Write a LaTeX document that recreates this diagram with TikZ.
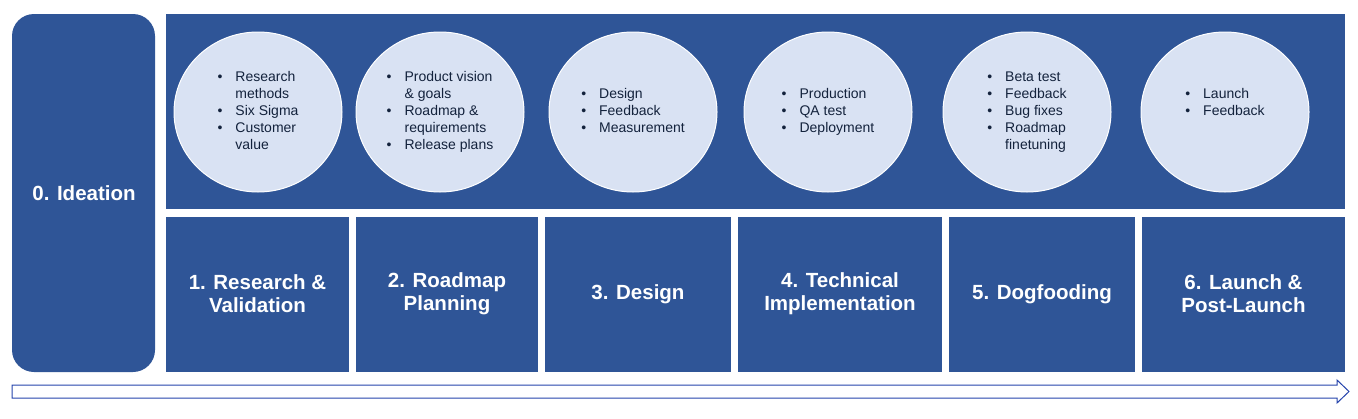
\documentclass[tikz,border=0pt]{standalone}
\usepackage{fontspec}
\setmainfont{Liberation Sans}
\usetikzlibrary{shapes.geometric}
\definecolor{phaseblue}{HTML}{2F5597}
\definecolor{bubblefill}{HTML}{D9E2F3}
\newcommand{\bl}{\textbullet}
\newcommand{\blist}[1]{{\fontsize{14}{17}\selectfont\begin{tabular}{@{}l@{\hspace{13pt}}l@{}}#1\end{tabular}}}
\begin{document}
\begin{tikzpicture}[x=1pt,y=-1pt,
    phase/.style={fill=phaseblue,text=white,font=\bfseries\fontsize{20.5}{23}\selectfont,align=center},
    bubble/.style={ellipse,fill=bubblefill,draw=white,line width=1pt,minimum width=168pt,minimum height=160pt,inner sep=0pt,text=phaseblue!40!black}]
    \useasboundingbox (0,0) rectangle (1358,418);
    % left column
    \draw[phase,rounded corners=22pt,draw=none] (12,14) rectangle (155,372);
    \node[text=white,font=\bfseries\fontsize{20.5}{23}\selectfont] (ideation) at (84,193) {0. Ideation};
    % top band
    \fill[phaseblue] (166,14) rectangle (1345,209);
    \node[bubble] (b1) at (258,112) {\blist{\bl & Research\\ & methods\\ \bl & Six Sigma\\ \bl & Customer\\ & value}};
    \node[bubble] (b2) at (440,112) {\blist{\bl & Product vision\\ & \& goals\\ \bl & Roadmap \&\\ & requirements\\ \bl & Release plans}};
    \node[bubble] (b3) at (633,112) {\blist{\bl & Design\\ \bl & Feedback\\ \bl & Measurement}};
    \node[bubble] (b4) at (828,112) {\blist{\bl & Production\\ \bl & QA test\\ \bl & Deployment}};
    \node[bubble] (b5) at (1027,112) {\blist{\bl & Beta test\\ \bl & Feedback\\ \bl & Bug fixes\\ \bl & Roadmap\\ & finetuning}};
    \node[bubble] (b6) at (1225,112) {\blist{\bl & Launch\\ \bl & Feedback\\[17pt]}};
    % bottom boxes
    \foreach \xa/\xb/\txt/\nm in {166/349/{1. Research \&\\Validation}/p1, 356/538/{2. Roadmap\\Planning}/p2,
        545/731/{3. Design}/p3, 738/942/{4. Technical\\Implementation}/p4,
        949/1135/{5. Dogfooding}/p5, 1142/1345/{6. Launch \&\\Post-Launch}/p6}{
        \fill[phaseblue] (\xa,217) rectangle (\xb,372);
        \node[phase,fill=none] (\nm) at ({(\xa+\xb)/2},294) {\txt};
    }
    % timeline arrow
    \draw[phaseblue!80!blue,line width=1pt,fill=white] (12,385) -- (1337,385) -- (1337,380) -- (1349,391.5)
        -- (1337,403) -- (1337,398) -- (12,398) -- cycle;
\end{tikzpicture}
\end{document}
